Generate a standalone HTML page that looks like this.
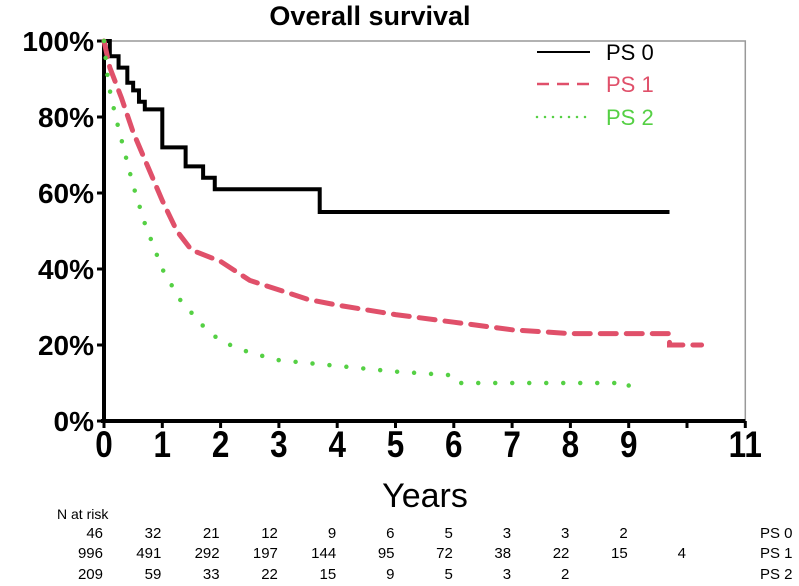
<!DOCTYPE html>
<html><head><meta charset="utf-8"><style>
body{margin:0;background:#fff;}
svg text{font-family:"Liberation Sans",Arial,sans-serif;}
</style></head><body>
<svg id="c" width="799" height="581" xmlns="http://www.w3.org/2000/svg">
<text x="370" y="25" text-anchor="middle" font-size="27" font-weight="bold">Overall survival</text>
<g id="axes"></g><g id="series"></g><g id="legend"></g><g id="risk"></g>
</svg>
<script>
const xTicks=[0,1,2,3,4,5,6,7,8,9,11];
const yTicks=[0,20,40,60,80,100];
const ps0T=[0,0.1,0.25,0.4,0.5,0.6,0.7,1.0,1.4,1.7,1.9,3.7,9.7];
const ps0S=[1,0.96,0.93,0.89,0.87,0.84,0.82,0.72,0.67,0.64,0.61,0.55,0.55];
const ps1T=[0,0.1,0.3,0.5,0.75,1.0,1.25,1.5,2,2.5,3,3.5,4,5,6,7,8,9,9.7,9.7,10.25];
const ps1S=[1,0.93,0.85,0.76,0.67,0.58,0.5,0.45,0.42,0.37,0.345,0.32,0.305,0.28,0.26,0.24,0.23,0.23,0.23,0.2,0.2];
const ps2T=[0,0.05,0.1,0.2,0.3,0.5,0.7,1.0,1.3,1.7,2,2.5,3,4,5,6,6.1,9,9];
const ps2S=[1,0.92,0.87,0.8,0.74,0.62,0.52,0.4,0.32,0.25,0.21,0.18,0.16,0.145,0.13,0.12,0.1,0.1,0.05];
const riskYears=[0,1,2,3,4,5,6,7,8,9,10];
const risk0=[46,32,21,12,9,6,5,3,3,2,null];
const risk1=[996,491,292,197,144,95,72,38,22,15,4];
const risk2=[209,59,33,22,15,9,5,3,2,null,null];
const NS="http://www.w3.org/2000/svg";
const X=t=>104+t*58.3, Y=s=>421-s*380;
function el(tag,attrs,parent){const e=document.createElementNS(NS,tag);for(const k in attrs)e.setAttribute(k,attrs[k]);parent.appendChild(e);return e;}
const ax=document.getElementById('axes');
let f=el('path',{d:`M${X(0)},${Y(1)} H${X(11)} V${Y(0)}`,fill:'none',stroke:'#999','stroke-width':1.5},ax);


let xa=el('line',{x1:X(0)-3,x2:X(11),y1:Y(0),y2:Y(0),stroke:'#000','stroke-width':4},ax);


let ya=el('line',{x1:X(0),x2:X(0),y1:Y(1),y2:Y(0)+2,stroke:'#000','stroke-width':4},ax);


for(let i=0;i<=11;i++){let tk=el('line',{x1:X(i),x2:X(i),y1:Y(0),y2:Y(0)+7,stroke:'#000','stroke-width':3},ax);

}
xTicks.forEach(v=>{let t=el('text',{transform:`translate(${X(v)},${Y(0)+36}) scale(0.85,1)`,'text-anchor':'middle','font-size':37,'font-weight':'bold'},ax);t.textContent=v;

});
yTicks.forEach(v=>{let tk=el('line',{x1:X(0)-7,x2:X(0),y1:Y(v/100),y2:Y(v/100),stroke:'#000','stroke-width':3},ax);


let t=el('text',{x:X(0)-10,y:Y(v/100)+10,'text-anchor':'end','font-size':28,'font-weight':'bold'},ax);t.textContent=v+'%';

});
let yl=el('text',{x:425,y:507,'text-anchor':'middle','font-size':34},ax);yl.textContent='Years';


const sr=document.getElementById('series');
function stepPath(T,S){let d=`M${X(T[0])},${Y(S[0])}`;for(let i=1;i<T.length;i++){d+=` H${X(T[i])} V${Y(S[i])}`;}return d;}
function smoothPath(T,S){let d=`M${X(T[0])},${Y(S[0])}`;for(let i=1;i<T.length;i++)d+=` L${X(T[i])},${Y(S[i])}`;return d;}
let p0=el('path',{d:stepPath(ps0T,ps0S),fill:'none',stroke:'#000','stroke-width':4},sr);


let p1=el('path',{d:smoothPath(ps1T,ps1S),fill:'none',stroke:'#e0506a','stroke-width':5,'stroke-dasharray':'16 10','stroke-linecap':'round'},sr);


let p2=el('path',{d:smoothPath(ps2T,ps2S),fill:'none',stroke:'#55d044','stroke-width':4.5,'stroke-dasharray':'0 17','stroke-linecap':'round'},sr);


const lg=document.getElementById('legend');
const legs=[['PS 0','#000','none','#000',52],['PS 1','#e0506a','12 8','#e0506a',84],['PS 2','#55d044','0 8','#55d044',117]];
legs.forEach(l=>{let ln=el('line',{x1:537,x2:590,y1:l[4],y2:l[4],stroke:l[1],'stroke-width':l[0]==='PS 0'?2:2.5,'stroke-dasharray':l[2],'stroke-linecap':l[0]==='PS 2'?'round':'butt'},lg);


let t=el('text',{x:606,y:l[4]+8,'font-size':22,fill:l[3]},lg);t.textContent=l[0];

});
const rk=document.getElementById('risk');
let nr=el('text',{x:57,y:519,'font-size':14},rk);nr.textContent='N at risk';


[[risk0,'PS 0',538],[risk1,'PS 1',558],[risk2,'PS 2',579]].forEach(r=>{
r[0].forEach((v,i)=>{if(v===null)return;let t=el('text',{x:X(riskYears[i])-1,y:r[2],'text-anchor':'end','font-size':15},rk);t.textContent=v;

});
let lb=el('text',{x:760,y:r[2],'font-size':15},rk);lb.textContent=r[1];

});
</script>
</body></html>
